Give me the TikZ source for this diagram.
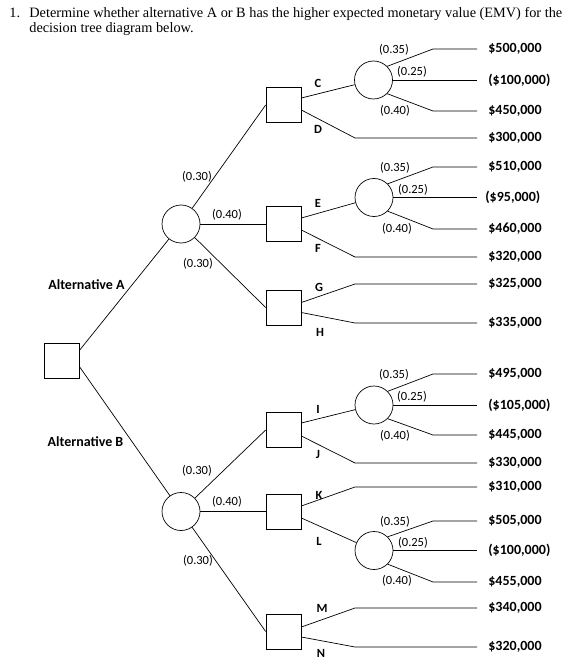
\documentclass[tikz,border=0pt]{standalone}
\usepackage{fontspec}
\setmainfont{Liberation Serif}
\newfontfamily\calibri{Carlito}
\usepackage{tikz}
\usetikzlibrary{positioning, calc}

\begin{document}
\begin{tikzpicture}[
    x=1pt, y=-1pt,
    every path/.style={line width=0.7pt},
    decision/.style={rectangle, draw, minimum size=35pt, inner sep=0pt},
    chance/.style={circle, draw, minimum size=38pt, inner sep=0pt},
    prob/.style={font=\calibri\fontsize{12.5}{14}\selectfont, inner sep=0pt},
    branch/.style={font=\calibri\bfseries\fontsize{12.5}{14}\selectfont, inner sep=0pt},
    payoff/.style={anchor=west, inner xsep=11pt, inner ysep=0pt, font=\calibri\bfseries\fontsize{14}{16}\selectfont},
    altlabel/.style={font=\calibri\bfseries\fontsize{14}{16}\selectfont, inner sep=0pt},
    question/.style={anchor=north west, inner sep=0pt, align=left, font=\fontsize{14.3}{15}\selectfont}
]
    \useasboundingbox (0,0) rectangle (570,668);

    % question
    \node[question] (num) at (9,7.5) {1.};
    \node[question] (text) at (29,7.5)
        {Determine whether alternative A or B has the higher expected monetary value (EMV) for the\\decision tree diagram below.};

    % decision and chance nodes
    \node[decision] (root) at (61.5,360.5) {};
    \node[chance] (cA) at (181,224) {};
    \node[chance] (cB) at (181,511.5) {};

    \node[decision] (sC) at (283.5,105) {};
    \node[decision] (sE) at (283.5,224) {};
    \node[decision] (sG) at (283.5,307.5) {};
    \node[decision] (sI) at (283.5,430) {};
    \node[decision] (sK) at (283.5,511.5) {};
    \node[decision] (sM) at (283.5,631.5) {};

    \node[chance] (cC) at (373.5,80) {};
    \node[chance] (cE) at (374,197.5) {};
    \node[chance] (cI) at (374,405) {};
    \node[chance] (cL) at (374,550.5) {};

    % payoffs
    \node[payoff] (v1) at (477,49) {\$500,000};
    \node[payoff] (v2) at (477,80) {(\$100,000)};
    \node[payoff] (v3) at (477,111) {\$450,000};
    \node[payoff] (v4) at (477,138) {\$300,000};
    \node[payoff] (v5) at (477,167) {\$510,000};
    \node[payoff, inner xsep=8pt] (v6) at (477,197.5) {(\$95,000)};
    \node[payoff] (v7) at (477,229) {\$460,000};
    \node[payoff] (v8) at (477,257) {\$320,000};
    \node[payoff] (v9) at (477,284) {\$325,000};
    \node[payoff] (v10) at (477,323) {\$335,000};
    \node[payoff] (v11) at (477,374) {\$495,000};
    \node[payoff] (v12) at (477,405) {(\$105,000)};
    \node[payoff] (v13) at (477,435) {\$445,000};
    \node[payoff] (v14) at (477,463) {\$330,000};
    \node[payoff] (v15) at (477,487) {\$310,000};
    \node[payoff] (v16) at (477,521) {\$505,000};
    \node[payoff] (v17) at (477,550.5) {(\$100,000)};
    \node[payoff] (v18) at (477,582) {\$455,000};
    \node[payoff] (v19) at (477,608) {\$340,000};
    \node[payoff] (v20) at (477,647) {\$320,000};

    % first level
    \draw ([yshift=10pt]root.east) -- (cA);
    \draw ([yshift=-6pt]root.east) -- (cB);
    \node[altlabel] (altA) at (86.5,285) {Alternative A};
    \node[altlabel] (altB) at (85.5,442) {Alternative B};

    % alternative A
    \draw (cA) -- (sC.west);
    \draw (cA) -- (sE);
    \draw (cA) -- (sG.west);
    \node[prob] (pA1) at (197,177) {(0.30)};
    \node[prob] (pA2) at (227,215) {(0.40)};
    \node[prob] (pA3) at (198,264) {(0.30)};

    % alternative B
    \draw (cB) -- (sI.west);
    \draw (cB) -- (sK);
    \draw (cB) -- (sM.west);
    \node[prob] (pB1) at (197,471) {(0.30)};
    \node[prob] (pB2) at (227,502) {(0.40)};
    \node[prob] (pB3) at (198,561) {(0.30)};

    % decision branches
    \draw ([yshift=7pt]sC.east) -- (cC);
    \draw ([yshift=-5pt]sC.east) -- ([xshift=-122pt]v4.west) -- (v4);
    \draw ([yshift=6pt]sE.east) -- (cE);
    \draw ([yshift=-6pt]sE.east) -- ([xshift=-122pt]v8.west) -- (v8);
    \draw ([yshift=5pt]sG.east) -- ([xshift=-122pt]v9.west) -- (v9);
    \draw ([yshift=-5pt]sG.east) -- ([xshift=-122pt]v10.west) -- (v10);
    \draw ([yshift=7pt]sI.east) -- (cI);
    \draw ([yshift=-6pt]sI.east) -- ([xshift=-122pt]v14.west) -- (v14);
    \draw ([yshift=5.5pt]sK.east) -- ([xshift=-122pt]v15.west) -- (v15);
    \draw ([yshift=-6.5pt]sK.east) -- (cL);
    \draw ([yshift=4.5pt]sM.east) -- ([xshift=-122pt]v19.west) -- (v19);
    \draw ([yshift=-5.5pt]sM.east) -- ([xshift=-122pt]v20.west) -- (v20);

    \node[branch] (lC) at (318,83) {C};
    \node[branch] (lD) at (318,129) {D};
    \node[branch] (lE) at (318,203) {E};
    \node[branch] (lF) at (318,248) {F};
    \node[branch] (lG) at (319,287) {G};
    \node[branch] (lH) at (320,332) {H};
    \node[branch] (lI) at (318,409) {I};
    \node[branch] (lJ) at (318,454) {J};
    \node[branch] (lK) at (319,495) {K};
    \node[branch] (lL) at (319,541) {L};
    \node[branch] (lM) at (322,608) {M};
    \node[branch] (lN) at (321,653) {N};

    % chance branches
    \foreach \c/\a/\b/\d in {cC/v1/v2/v3, cE/v5/v6/v7, cI/v11/v12/v13, cL/v16/v17/v18} {
        \draw (\c.north east) -- ([xshift=-44pt]\a.west) -- (\a);
        \draw (\c) -- (\b);
        \draw (\c.south east) -- ([xshift=-44pt]\d.west) -- (\d);
    }
    \node[prob] (pC1) at (394,50) {(0.35)};
    \node[prob] (pC2) at (412,72) {(0.25)};
    \node[prob] (pC3) at (395,111) {(0.40)};
    \node[prob] (pE1) at (395,168) {(0.35)};
    \node[prob] (pE2) at (413,190) {(0.25)};
    \node[prob] (pE3) at (397,229) {(0.40)};
    \node[prob] (pI1) at (394,375) {(0.35)};
    \node[prob] (pI2) at (412,397) {(0.25)};
    \node[prob] (pI3) at (395,436) {(0.40)};
    \node[prob] (pL1) at (395,522) {(0.35)};
    \node[prob] (pL2) at (413,543) {(0.25)};
    \node[prob] (pL3) at (397,581) {(0.40)};
\end{tikzpicture}
\end{document}
